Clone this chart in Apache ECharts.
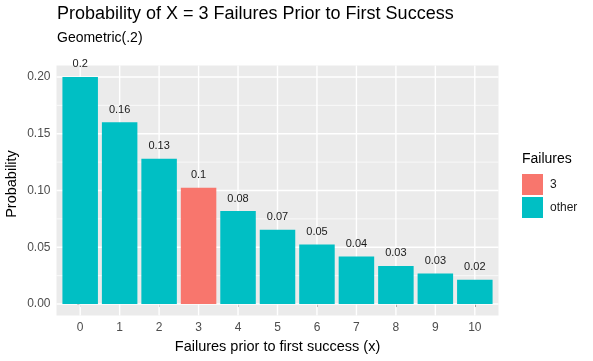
<!DOCTYPE html>
<html><head><meta charset="utf-8">
<script src="https://cdn.jsdelivr.net/npm/echarts@6/dist/echarts.min.js"></script>
<style>html,body{margin:0;padding:0;background:#fff}#c{width:593px;height:361px}</style>
</head><body><div id="c"></div>
<script>
var categories = [0,1,2,3,4,5,6,7,8,9,10];
var probs = [0.2, 0.16, 0.128, 0.1024, 0.08192, 0.065536, 0.052429, 0.041943, 0.033554, 0.026844, 0.021475];
var textLabels = ['0.2','0.16','0.13','0.1','0.08','0.07','0.05','0.04','0.03','0.03','0.02'];
var highlight = 3;
var yTicks = [0, 0.05, 0.10, 0.15, 0.20];
var yMinor = [0.025, 0.075, 0.125, 0.175];
var yTickLabels = ['0.00','0.05','0.10','0.15','0.20'];
var xRange = [-0.6, 10.6];
var yRange = [-0.01, 0.21];

var FONT = 'Liberation Sans, Arial, sans-serif';
var otherData = [], hiData = [];
categories.forEach(function(c,i){
  if (c === highlight) { hiData.push({value:[c, probs[i]], lab:textLabels[i]}); }
  else { otherData.push({value:[c, probs[i]], lab:textLabels[i]}); }
});
function hLines(vals){ var d=[]; vals.forEach(function(v){ d.push([xRange[0],v],[xRange[1],v],['-','-']); }); return d; }
function vLines(vals){ var d=[]; vals.forEach(function(v){ d.push([v,yRange[0]],[v,yRange[1]],['-','-']); }); return d; }
function gridSeries(data, w){
  return {type:'line', data:data, silent:true, z:1, showSymbol:false, symbol:'none',
    connectNulls:false, lineStyle:{color:'#ffffff', width:w}, emphasis:{disabled:true}, tooltip:{show:false}};
}

var labelCfg = {show:true, position:'top', distance:7, fontSize:11, color:'#1a1a1a',
  fontFamily:FONT, formatter:function(p){return p.data.lab;}};

var chart = echarts.init(document.getElementById('c'), null, {renderer:'canvas'});
chart.setOption({
  animation:false,
  textStyle:{fontFamily:FONT},
  title:[{text:'Probability of X = 3 Failures Prior to First Success', left:57, top:5, padding:0,
    textStyle:{fontSize:18, fontWeight:'normal', color:'#000', fontFamily:FONT}},
    {text:'Geometric(.2)', left:57, top:31, padding:0, textStyle:{fontSize:14, fontWeight:'normal', color:'#000', fontFamily:FONT}}],
  grid:{left:56.5, right:94.5, top:65.6, bottom:45.6, show:true, backgroundColor:'#EBEBEB', borderWidth:0},
  xAxis:{type:'value', min:xRange[0], max:xRange[1],
    axisLine:{show:false}, splitLine:{show:false},
    axisTick:{show:true, length:3, lineStyle:{color:'#333', width:1}, customValues:categories},
    axisLabel:{customValues:categories, fontSize:12, color:'#4d4d4d', margin:6, fontFamily:FONT},
    name:'Failures prior to first success (x)', nameLocation:'middle', nameGap:24,
    nameTextStyle:{fontSize:14.5, color:'#000', fontFamily:FONT}},
  yAxis:{type:'value', min:yRange[0], max:yRange[1],
    axisLine:{show:false}, splitLine:{show:false},
    axisTick:{show:true, length:3, lineStyle:{color:'#333', width:1}, customValues:yTicks},
    axisLabel:{customValues:yTicks, fontSize:12, color:'#4d4d4d', margin:6, fontFamily:FONT,
      formatter:function(v){ var i = yTicks.findIndex(function(t){return Math.abs(t-v)<1e-9;}); return i>=0?yTickLabels[i]:''; }}},
  legend:{data:['3','other'], orient:'vertical', left:522, top:174, itemWidth:21, itemHeight:21,
    itemGap:2, icon:'rect', padding:0, textStyle:{fontSize:12, color:'#1a1a1a', padding:[0,0,0,2], fontFamily:FONT}},
  graphic:[
    {type:'text', left:522, top:152, style:{text:'Failures', fontSize:14, fill:'#000', fontFamily:FONT}},
    {type:'text', x:12, y:184, rotation:Math.PI/2, style:{text:'Probability', fontSize:14.5, fill:'#000',
      fontFamily:FONT, align:'center', verticalAlign:'middle'}}
  ],
  series:[
    gridSeries(hLines(yMinor), 0.7),
    gridSeries(hLines(yTicks), 1.4),
    gridSeries(vLines(categories), 1.4),
    {type:'bar', name:'3', data:hiData, barWidth:35.5, barGap:'-100%', z:3,
      itemStyle:{color:'#F8766D'}, label:labelCfg},
    {type:'bar', name:'other', data:otherData, barWidth:35.5, barGap:'-100%', z:3,
      itemStyle:{color:'#00BFC4'}, label:labelCfg}
  ]
});
</script></body></html>
